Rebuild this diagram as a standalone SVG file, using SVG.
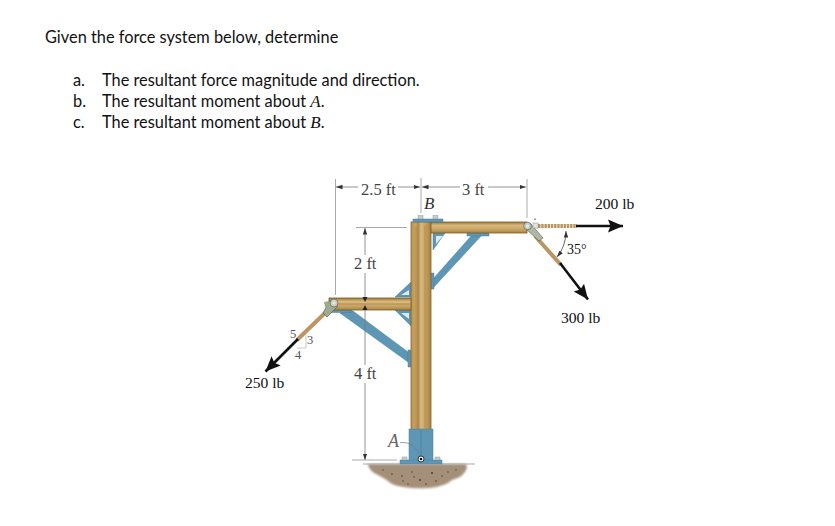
<svg xmlns="http://www.w3.org/2000/svg" width="835" height="526" viewBox="0 0 835 526">
<defs>
<style>
.t{font-family:Lato,"Liberation Sans",sans-serif;font-size:16.35px;fill:#111}
.i{font-family:"Liberation Serif",serif;font-style:italic;font-size:17px}
.d{font-family:"Liberation Serif",serif;font-size:16.500px;fill:#444}
.f{font-family:"Liberation Serif",serif;font-size:15.600px;fill:#111}
.s{font-family:"Liberation Serif",serif;font-size:12.500px;fill:#555}
.dim{stroke:#777;stroke-width:.8;fill:none}
.ext{stroke:#aaa;stroke-width:1;fill:none}
.blue{fill:#5d97b5;stroke:#44809e;stroke-width:.5}
.force{stroke:#111;stroke-width:2.6;fill:none}
.rope{stroke:#bd9562;stroke-width:4;fill:none}
.soft{filter:url(#b)}
</style>
<marker id="a" markerWidth="7" markerHeight="6" refX="6.5" refY="3" orient="auto-start-reverse" markerUnits="userSpaceOnUse"><path d="M0 .8L6.500 3L0 5.200z" fill="#333"/></marker>
<marker id="h" markerWidth="18" markerHeight="16" refX="15" refY="8" orient="auto" markerUnits="userSpaceOnUse"><path d="M0 1.500L15 8L0 14.500L2.500 8z" fill="#111"/></marker>
<linearGradient id="pw" x1="0" x2="1" y1="0" y2="0"><stop offset="0" stop-color="#bb9452"/><stop offset=".25" stop-color="#c9a565"/><stop offset=".35" stop-color="#a98343"/><stop offset=".5" stop-color="#d9bb80"/><stop offset=".7" stop-color="#c8a463"/><stop offset="1" stop-color="#a78040"/></linearGradient>
<linearGradient id="bw" x1="0" x2="0" y1="0" y2="1"><stop offset="0" stop-color="#9c7738"/><stop offset=".3" stop-color="#d8b97d"/><stop offset=".7" stop-color="#c7a362"/><stop offset="1" stop-color="#a98341"/></linearGradient>
<filter id="b" x="-10%" y="-10%" width="120%" height="120%"><feGaussianBlur stdDeviation=".45"/></filter>
<filter id="g" x="-10%" y="-20%" width="120%" height="140%"><feGaussianBlur stdDeviation="1.200"/></filter>
</defs>
<rect width="835" height="526" fill="#fff"/>
<g id="question">
<text class="t" x="45" y="43">Given the force system below, determine</text>
<text class="t" x="73" y="86">a.</text><text class="t" x="102" y="86">The resultant force magnitude and direction.</text>
<text class="t" x="73" y="107">b.</text><text class="t" x="102" y="107">The resultant moment about <tspan class="i">A</tspan>.</text>
<text class="t" x="73" y="128">c.</text><text class="t" x="102" y="128">The resultant moment about <tspan class="i">B</tspan>.</text>
</g>
<g id="ground">
<path d="M368 465Q370 472 378 475Q386 479 392 484Q402 489 430 488Q446 486 452 480Q464 477 467 468L466 464H368z" fill="#a48f78" filter="url(#g)"/>
<g fill="#4e3a2a"><circle cx="383" cy="470" r=".7"/><circle cx="392" cy="474" r=".8"/><circle cx="402" cy="476" r=".8"/><circle cx="403" cy="481" r=".7"/><circle cx="412" cy="472" r=".7"/><circle cx="420" cy="480" r=".9"/><circle cx="432" cy="473" r="1"/><circle cx="436" cy="481" r=".8"/><circle cx="448" cy="472" r=".7"/><circle cx="408" cy="484" r=".7"/><circle cx="426" cy="484" r=".8"/><circle cx="442" cy="476" r=".7"/><circle cx="456" cy="470" r=".7"/><circle cx="414" cy="477" r=".7"/></g>
<path d="M363 464H475" stroke="#aaa" stroke-width="1.200"/>
</g>
<g id="braces" class="soft">
<path class="blue" d="M433 279L472 235H482L433 288z"/>
<path class="blue" d="M431 273H434V289H431zM467 233H489V236H467z"/>
<path class="blue" d="M344 311H353L408 352V362L340 313z"/>
<path class="blue" d="M408 350H411V367H408zM331 310H352V312.500H331z"/>
<path class="blue" d="M433 233H445L433 250z"/>
<path class="blue" d="M411 282V297H395zM411 326V310H395z"/>
<path d="M401 295L409 290V295zM401 313H409V319z" fill="#e4e8ea"/>
<path d="M436 236H443L436 244z" fill="#e4e8ea"/>
</g>
<g id="post" class="soft">
<rect x="411" y="222" width="20" height="208" fill="url(#pw)" stroke="#86662f" stroke-width=".8"/>
<path d="M416 226V428M425 226V428" stroke="#9b7a3e" stroke-width=".5"/>
</g>
<g id="beam-top" class="soft">
<rect x="431" y="222" width="96" height="11" fill="url(#bw)" stroke="#7a5c2a" stroke-width=".8"/>
<rect x="413" y="219" width="30" height="3" class="blue"/>
<rect x="418" y="215.500" width="5" height="3.500" fill="#c4ccd0" stroke="#888" stroke-width=".4"/><rect x="433" y="215.500" width="5" height="3.500" fill="#c4ccd0" stroke="#888" stroke-width=".4"/>
</g>
<g id="beam-left" class="soft">
<rect x="329" y="298" width="82" height="12" fill="url(#bw)" stroke="#7a5c2a" stroke-width=".8"/>
<path d="M332 304H411" stroke="#8f6c34" stroke-width=".5"/>
</g>
<g id="base" class="soft">
<rect x="409" y="429" width="24" height="32" class="blue"/>
<rect x="400" y="460" width="42" height="4" class="blue"/>
<rect x="402" y="457" width="5" height="3" fill="#c4ccd0" stroke="#888" stroke-width=".4"/><rect x="435" y="457" width="5" height="3" fill="#c4ccd0" stroke="#888" stroke-width=".4"/>
<path d="M421 430V457" stroke="#3f7690" stroke-width=".5"/>
<circle cx="421" cy="459" r="3" fill="#fff" stroke="#222" stroke-width=".9"/><circle cx="421" cy="459" r="1.300" fill="#111"/>
</g>
<g id="connectors">
<path class="ext" d="M335.500 179V295M421 178V213M527 179V218M356 227.500H407M352 460H397"/>
<path class="dim" d="M336 187H358" marker-start="url(#a)"/>
<path class="dim" d="M398 187H420" marker-end="url(#a)"/>
<path class="dim" d="M422 187H460" marker-start="url(#a)"/>
<path class="dim" d="M488 187H526" marker-end="url(#a)"/>
<path class="dim" d="M365 228V255" marker-start="url(#a)"/>
<path class="dim" d="M365 273V297"/>
<path class="dim" d="M365 310V365"/>
<path class="dim" d="M365 383V460" marker-end="url(#a)"/>
<path d="M362.500 297H367.500L365 302zM362.500 310H367.500L365 305z" fill="#222"/>
<path d="M400 442.500Q414 441 420 456" stroke="#777" stroke-width=".7" fill="none"/>
<path class="rope" d="M538 226L577 226" stroke-dasharray="2.500 .7"/>
<path class="force" d="M576 226H623" marker-end="url(#h)"/>
<path class="rope" d="M535 236L561 265"/>
<path class="force" d="M560 263L588 299.500" marker-end="url(#h)"/>
<path class="rope" d="M325 313L297 340"/>
<path class="force" d="M298 339L265.500 371.500" marker-end="url(#h)"/>
<path d="M566 231Q566 246 557 257" stroke="#444" stroke-width=".8" fill="none" marker-end="url(#a)" marker-start="url(#a)"/>
<path d="M306 335V348H297" stroke="#bbb" stroke-width=".8" fill="none"/>
</g>
<g id="clevis-top" class="soft">
<path d="M525 228L530 223L543 238L539 241z" fill="#aeb9a2" stroke="#555" stroke-width=".6"/>
<circle cx="527.500" cy="226" r="3.800" fill="#c5cec0" stroke="#555" stroke-width=".6"/><circle cx="527.500" cy="226" r="1.500" fill="#e8e8e8"/>
<rect x="533" y="223" width="5" height="5" fill="#dfe6e0" stroke="#777" stroke-width=".4"/>
<path d="M535 218.500V220" stroke="#333"/>
</g>
<g id="clevis-left" class="soft">
<path d="M323 313L330 300L338 306L327 317z" fill="#9eaa8e" stroke="#555" stroke-width=".6"/>
<path d="M324 302L329 301V306L325 307z" fill="#9eaa8e"/>
<circle cx="334" cy="303" r="4" fill="#c5cec0" stroke="#555" stroke-width=".6"/><circle cx="334" cy="303" r="1.600" fill="#e8e8e8"/>
</g>
<g id="labels">
<text class="d" x="361" y="195">2.5 ft</text>
<text class="d" x="462" y="195">3 ft</text>
<text class="i" x="424" y="209" fill="#333">B</text>
<text class="d" x="354" y="269">2 ft</text>
<text class="d" x="354" y="379">4 ft</text>
<text class="i" x="388" y="447" fill="#666" style="font-size:18px">A</text>
<text class="f" x="595" y="209">200 lb</text>
<text class="f" x="561" y="323">300 lb</text>
<text class="f" x="245" y="388">250 lb</text>
<text class="s" x="567" y="254" style="font-size:14px;fill:#111">35°</text>
<text class="s" x="290" y="338">5</text>
<text class="s" x="307" y="344">3</text>
<text class="s" x="295" y="359">4</text>
</g>
</svg>
